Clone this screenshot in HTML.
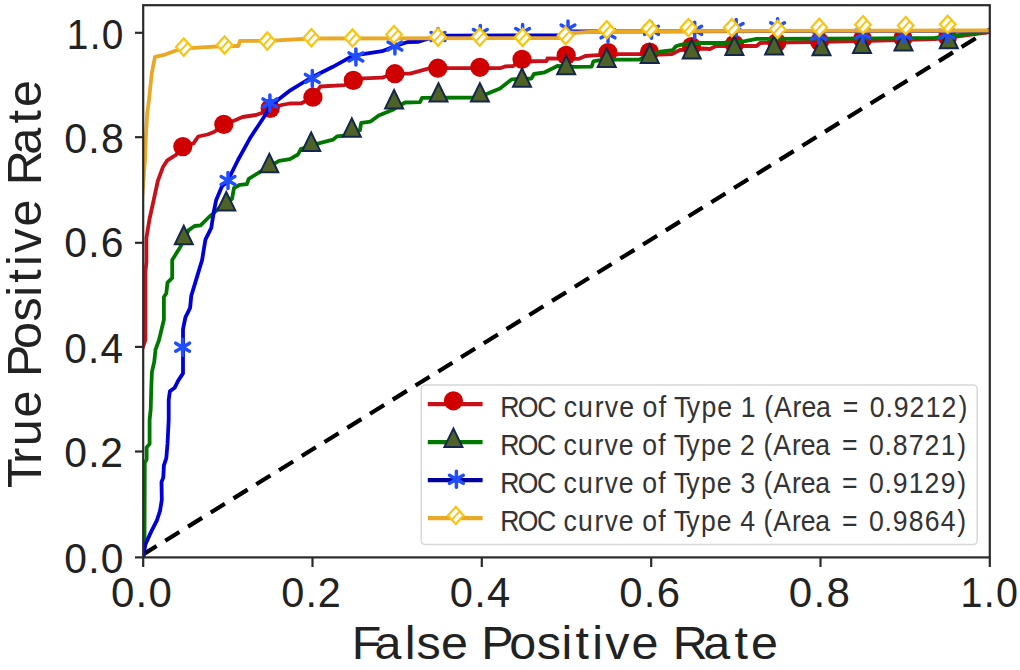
<!DOCTYPE html>
<html><head><meta charset="utf-8"><style>
html,body{margin:0;padding:0;background:#fff;}
svg{display:block;}
text{font-family:"Liberation Sans",sans-serif;}
</style></head><body>
<svg width="1020" height="670" viewBox="0 0 1020 670">
<defs><filter id="bl" x="-0.05" y="-0.05" width="1.1" height="1.1"><feGaussianBlur stdDeviation="0.8"/></filter><clipPath id="ax"><rect x="143.2" y="5.2" width="846.6" height="552.2"/></clipPath></defs>
<g>
<g clip-path="url(#ax)">
<line x1="143.2" y1="554.4" x2="989.8" y2="29.5" stroke="#000" stroke-width="4.2" stroke-dasharray="16.6 10.17" stroke-dashoffset="0.8"/>
<polyline points="142,557.4 142,350 145.4,340 145.4,272 146.4,262 146.4,238 149.5,219 153.7,200 157.8,181 163.1,166.7 167.3,160.4 175.6,155.2 182.8,147.5 193.5,143.3 198.2,136.5 207.6,134.5 214.4,131.8 224,124.5 234.5,120.4 242.6,117 256,115 261.4,113 270.1,109 281.6,105 289.6,103.5 301.5,103.3 312.9,97.2 320.3,86.5 344.5,85.1 353.3,80.4 363.3,78.4 382.2,77.7 387.5,75.7 397,73.7 410,73.6 420,70.9 430,68.2 500,68.2 505,66.5 513.4,66 518,61.5 546.6,61 547.5,58.4 578.9,58.8 585.4,56 597.9,55.1 617.6,54.2 639.1,54.2 660,54.5 672,54 680,50 702,48.5 710,49 716,46 756.7,46 760,43 810,42 880,40.6 935,39 960,36 989.8,32" fill="none" stroke="#c8101a" stroke-width="3.8" stroke-linejoin="round"/>
<circle cx="182.8" cy="146.6" r="9.6" fill="#d00000"/><circle cx="223.8" cy="124.4" r="9.6" fill="#d00000"/><circle cx="270.2" cy="108.4" r="9.6" fill="#d00000"/><circle cx="312.9" cy="97.2" r="9.6" fill="#d00000"/><circle cx="353.3" cy="80.4" r="9.6" fill="#d00000"/><circle cx="394.9" cy="73.7" r="9.6" fill="#d00000"/><circle cx="437.8" cy="68.2" r="9.6" fill="#d00000"/><circle cx="479.9" cy="67.3" r="9.6" fill="#d00000"/><circle cx="522" cy="59.3" r="9.6" fill="#d00000"/><circle cx="566.2" cy="55.4" r="9.6" fill="#d00000"/><circle cx="608" cy="52.6" r="9.6" fill="#d00000"/><circle cx="649.5" cy="52" r="9.6" fill="#d00000"/><circle cx="691.5" cy="46.5" r="9.6" fill="#d00000"/><circle cx="734.4" cy="44.4" r="9.6" fill="#d00000"/><circle cx="776.8" cy="42.6" r="9.6" fill="#d00000"/><circle cx="819.5" cy="41.5" r="9.6" fill="#d00000"/><circle cx="862.5" cy="39" r="9.6" fill="#d00000"/><circle cx="903" cy="38" r="9.6" fill="#d00000"/><circle cx="947.5" cy="37" r="9.6" fill="#d00000"/>
<polyline points="143.2,557.4 144.5,540 144.8,463 146.6,459.4 146.6,447.5 149.6,443.9 149.6,420 150.7,409.3 151.3,387.8 151.9,372.2 154.3,361.5 155.5,349.6 159,340 163.9,319.7 163.9,297 166.3,293.4 167.5,282.7 172.2,277.9 172.2,260 180.3,246.9 188.7,230.1 194.6,226 200.6,225.4 209,217 214,213 224,203 232,199 234,188 240,184.8 246.9,184.2 248.7,178.8 257.6,173.4 266.6,168 279.1,160.9 289.9,159.1 298,154.5 300.8,149.1 319.6,143.1 333,139.7 337,136.4 343.8,135.7 359.9,130.3 361.2,122.9 370.6,121.6 378.7,115.5 393.5,109.5 397.5,106.8 405,102.5 420,102.2 422,97.8 478,97.5 500,88.4 511.6,79.4 531.4,78.5 534,74 544.8,72.3 553.8,67.8 557.3,66 576.2,66.9 591.6,66.7 593.4,61.4 597.9,60.5 617.6,59.6 639.1,59.6 649,55 660.2,51.7 672.7,50.1 675.9,46.2 681.4,44.6 701.8,43 723.7,43 744.9,41.2 756.7,38.8 880,38.4 935,38 960,35 989.8,31.5" fill="none" stroke="#007800" stroke-width="3.8" stroke-linejoin="round"/>
<path d="M183.8 225.8 L174.8 244.2 L192.8 244.2 Z" fill="#4e6127" stroke="#14264a" stroke-width="2" stroke-linejoin="miter"/><path d="M226.3 192 L217.3 210.4 L235.3 210.4 Z" fill="#4e6127" stroke="#14264a" stroke-width="2" stroke-linejoin="miter"/><path d="M269.3 153.9 L260.3 172.3 L278.3 172.3 Z" fill="#4e6127" stroke="#14264a" stroke-width="2" stroke-linejoin="miter"/><path d="M311.2 132.5 L302.2 150.9 L320.2 150.9 Z" fill="#4e6127" stroke="#14264a" stroke-width="2" stroke-linejoin="miter"/><path d="M351.8 118.4 L342.8 136.8 L360.8 136.8 Z" fill="#4e6127" stroke="#14264a" stroke-width="2" stroke-linejoin="miter"/><path d="M394.1 90 L385.1 108.4 L403.1 108.4 Z" fill="#4e6127" stroke="#14264a" stroke-width="2" stroke-linejoin="miter"/><path d="M438.5 83.2 L429.5 101.6 L447.5 101.6 Z" fill="#4e6127" stroke="#14264a" stroke-width="2" stroke-linejoin="miter"/><path d="M479.9 83.2 L470.9 101.6 L488.9 101.6 Z" fill="#4e6127" stroke="#14264a" stroke-width="2" stroke-linejoin="miter"/><path d="M522 68.4 L513 86.8 L531 86.8 Z" fill="#4e6127" stroke="#14264a" stroke-width="2" stroke-linejoin="miter"/><path d="M566.2 55.8 L557.2 74.2 L575.2 74.2 Z" fill="#4e6127" stroke="#14264a" stroke-width="2" stroke-linejoin="miter"/><path d="M606.7 48.5 L597.7 66.9 L615.7 66.9 Z" fill="#4e6127" stroke="#14264a" stroke-width="2" stroke-linejoin="miter"/><path d="M649.7 44.5 L640.7 62.9 L658.7 62.9 Z" fill="#4e6127" stroke="#14264a" stroke-width="2" stroke-linejoin="miter"/><path d="M691.7 40 L682.7 58.4 L700.7 58.4 Z" fill="#4e6127" stroke="#14264a" stroke-width="2" stroke-linejoin="miter"/><path d="M734.4 36.5 L725.4 54.9 L743.4 54.9 Z" fill="#4e6127" stroke="#14264a" stroke-width="2" stroke-linejoin="miter"/><path d="M774.1 36.1 L765.1 54.5 L783.1 54.5 Z" fill="#4e6127" stroke="#14264a" stroke-width="2" stroke-linejoin="miter"/><path d="M821.5 36.8 L812.5 55.2 L830.5 55.2 Z" fill="#4e6127" stroke="#14264a" stroke-width="2" stroke-linejoin="miter"/><path d="M862 34.5 L853 52.9 L871 52.9 Z" fill="#4e6127" stroke="#14264a" stroke-width="2" stroke-linejoin="miter"/><path d="M903.5 32 L894.5 50.4 L912.5 50.4 Z" fill="#4e6127" stroke="#14264a" stroke-width="2" stroke-linejoin="miter"/><path d="M948.8 29.8 L939.8 48.2 L957.8 48.2 Z" fill="#4e6127" stroke="#14264a" stroke-width="2" stroke-linejoin="miter"/>
<polyline points="143.2,557.4 145.4,544.4 150.6,532.9 156.9,520.3 160,510.9 161.8,500 161.5,482.1 163.3,477.3 163.9,465.4 166.3,458.2 167.5,443.9 168.7,420 168.7,399.7 169.9,391.3 174.6,387.8 178.2,380.6 183,373.4 183,347.8 183,329.3 185.4,317.3 190.1,307.8 191.3,295.8 194.9,283.9 198.5,271.9 202.1,260 205.4,239.7 211.3,227.8 213.7,212.2 216.1,200.3 222.1,186 226.9,182.4 238,160 250.6,137.2 264,117 270.1,106 290.3,90.3 310.5,78 332.9,66.8 353,55.7 382.2,51.2 393.3,46.8 407.7,42 418.5,41.8 429,38.5 448,35.6 512.6,35.3 566,35.2 571,31.5 989.8,30.8" fill="none" stroke="#0000d8" stroke-width="3.8" stroke-linejoin="round"/>
<path d="M182.6 339.2L182.6 355.2M175.7 343.2L189.5 351.2M175.7 351.2L189.5 343.2" stroke="#1f4dff" stroke-width="3.5" stroke-linecap="round"/><path d="M228 172.6L228 188.6M221.1 176.6L234.9 184.6M221.1 184.6L234.9 176.6" stroke="#1f4dff" stroke-width="3.5" stroke-linecap="round"/><path d="M269.9 94.9L269.9 110.9M263 98.9L276.8 106.9M263 106.9L276.8 98.9" stroke="#1f4dff" stroke-width="3.5" stroke-linecap="round"/><path d="M312.3 70.4L312.3 86.4M305.4 74.4L319.2 82.4M305.4 82.4L319.2 74.4" stroke="#1f4dff" stroke-width="3.5" stroke-linecap="round"/><path d="M355.9 48.9L355.9 64.9M349 52.9L362.8 60.9M349 60.9L362.8 52.9" stroke="#1f4dff" stroke-width="3.5" stroke-linecap="round"/><path d="M394.9 38.1L394.9 54.1M388 42.1L401.8 50.1M388 50.1L401.8 42.1" stroke="#1f4dff" stroke-width="3.5" stroke-linecap="round"/><path d="M438 28.5L438 44.5M431.1 32.5L444.9 40.5M431.1 40.5L444.9 32.5" stroke="#1f4dff" stroke-width="3.5" stroke-linecap="round"/><path d="M480.3 25.5L480.3 41.5M473.4 29.5L487.2 37.5M473.4 37.5L487.2 29.5" stroke="#1f4dff" stroke-width="3.5" stroke-linecap="round"/><path d="M522.6 24.6L522.6 40.6M515.7 28.6L529.5 36.6M515.7 36.6L529.5 28.6" stroke="#1f4dff" stroke-width="3.5" stroke-linecap="round"/><path d="M568 21.1L568 37.1M561.1 25.1L574.9 33.1M561.1 33.1L574.9 25.1" stroke="#1f4dff" stroke-width="3.5" stroke-linecap="round"/><path d="M608 25.8L608 41.8M601.1 29.8L614.9 37.8M601.1 37.8L614.9 29.8" stroke="#1f4dff" stroke-width="3.5" stroke-linecap="round"/><path d="M651.5 22.3L651.5 38.3M644.6 26.3L658.4 34.3M644.6 34.3L658.4 26.3" stroke="#1f4dff" stroke-width="3.5" stroke-linecap="round"/><path d="M694.7 22.3L694.7 38.3M687.8 26.3L701.6 34.3M687.8 34.3L701.6 26.3" stroke="#1f4dff" stroke-width="3.5" stroke-linecap="round"/><path d="M736.2 19.6L736.2 35.6M729.3 23.6L743.1 31.6M729.3 31.6L743.1 23.6" stroke="#1f4dff" stroke-width="3.5" stroke-linecap="round"/><path d="M777.6 18.8L777.6 34.8M770.7 22.8L784.5 30.8M770.7 30.8L784.5 22.8" stroke="#1f4dff" stroke-width="3.5" stroke-linecap="round"/><path d="M818.8 27.3L818.8 43.3M811.9 31.3L825.7 39.3M811.9 39.3L825.7 31.3" stroke="#1f4dff" stroke-width="3.5" stroke-linecap="round"/><path d="M863 26L863 42M856.1 30L869.9 38M856.1 38L869.9 30" stroke="#1f4dff" stroke-width="3.5" stroke-linecap="round"/><path d="M904 26.5L904 42.5M897.1 30.5L910.9 38.5M897.1 38.5L910.9 30.5" stroke="#1f4dff" stroke-width="3.5" stroke-linecap="round"/><path d="M946.8 26L946.8 42M939.9 30L953.7 38M939.9 38L953.7 30" stroke="#1f4dff" stroke-width="3.5" stroke-linecap="round"/>
<polyline points="142,557.4 142,200 145,160 146,134 147.2,113.9 149.4,96 151.7,73.6 155,56.8 165.1,54.6 174,51.2 183.8,48 190,48.2 225,46 238.4,46 240,40.9 267.6,40.9 311.4,38.5 566,38 571,33 600,31.3 989.8,30.5" fill="none" stroke="#e9a825" stroke-width="3.8" stroke-linejoin="round"/>
<path d="M183.8 38.5 L191.6 47.1 L183.8 55.7 L176 47.1 Z" fill="#fff" stroke="#f9c513" stroke-width="2.3"/><path d="M179.9 51.4 L187.7 42.8" stroke="#f9c513" stroke-width="2"/><path d="M224.6 36.4 L232.4 45 L224.6 53.6 L216.8 45 Z" fill="#fff" stroke="#f9c513" stroke-width="2.3"/><path d="M220.7 49.3 L228.5 40.7" stroke="#f9c513" stroke-width="2"/><path d="M267.3 32.5 L275.1 41.1 L267.3 49.7 L259.5 41.1 Z" fill="#fff" stroke="#f9c513" stroke-width="2.3"/><path d="M263.4 45.4 L271.2 36.8" stroke="#f9c513" stroke-width="2"/><path d="M311.4 29.1 L319.2 37.7 L311.4 46.3 L303.6 37.7 Z" fill="#fff" stroke="#f9c513" stroke-width="2.3"/><path d="M307.5 42 L315.3 33.4" stroke="#f9c513" stroke-width="2"/><path d="M352.5 29.4 L360.3 38 L352.5 46.6 L344.7 38 Z" fill="#fff" stroke="#f9c513" stroke-width="2.3"/><path d="M348.6 42.3 L356.4 33.7" stroke="#f9c513" stroke-width="2"/><path d="M394.1 26 L401.9 34.6 L394.1 43.2 L386.3 34.6 Z" fill="#fff" stroke="#f9c513" stroke-width="2.3"/><path d="M390.2 38.9 L398 30.3" stroke="#f9c513" stroke-width="2"/><path d="M438 28.5 L445.8 37.1 L438 45.7 L430.2 37.1 Z" fill="#fff" stroke="#f9c513" stroke-width="2.3"/><path d="M434.1 41.4 L441.9 32.8" stroke="#f9c513" stroke-width="2"/><path d="M479.7 28.5 L487.5 37.1 L479.7 45.7 L471.9 37.1 Z" fill="#fff" stroke="#f9c513" stroke-width="2.3"/><path d="M475.8 41.4 L483.6 32.8" stroke="#f9c513" stroke-width="2"/><path d="M522.6 28.8 L530.4 37.4 L522.6 46 L514.8 37.4 Z" fill="#fff" stroke="#f9c513" stroke-width="2.3"/><path d="M518.7 41.7 L526.5 33.1" stroke="#f9c513" stroke-width="2"/><path d="M565.6 27 L573.4 35.6 L565.6 44.2 L557.8 35.6 Z" fill="#fff" stroke="#f9c513" stroke-width="2.3"/><path d="M561.7 39.9 L569.5 31.3" stroke="#f9c513" stroke-width="2"/><path d="M606.8 21.1 L614.6 29.7 L606.8 38.3 L599 29.7 Z" fill="#fff" stroke="#f9c513" stroke-width="2.3"/><path d="M602.9 34 L610.7 25.4" stroke="#f9c513" stroke-width="2"/><path d="M649.7 19.9 L657.5 28.5 L649.7 37.1 L641.9 28.5 Z" fill="#fff" stroke="#f9c513" stroke-width="2.3"/><path d="M645.8 32.8 L653.6 24.2" stroke="#f9c513" stroke-width="2"/><path d="M688.5 19 L696.3 27.6 L688.5 36.2 L680.7 27.6 Z" fill="#fff" stroke="#f9c513" stroke-width="2.3"/><path d="M684.6 31.9 L692.4 23.3" stroke="#f9c513" stroke-width="2"/><path d="M731.8 19 L739.6 27.6 L731.8 36.2 L724 27.6 Z" fill="#fff" stroke="#f9c513" stroke-width="2.3"/><path d="M727.9 31.9 L735.7 23.3" stroke="#f9c513" stroke-width="2"/><path d="M777.6 20.8 L785.4 29.4 L777.6 38 L769.8 29.4 Z" fill="#fff" stroke="#f9c513" stroke-width="2.3"/><path d="M773.7 33.7 L781.5 25.1" stroke="#f9c513" stroke-width="2"/><path d="M819.3 18.8 L827.1 27.4 L819.3 36 L811.5 27.4 Z" fill="#fff" stroke="#f9c513" stroke-width="2.3"/><path d="M815.4 31.7 L823.2 23.1" stroke="#f9c513" stroke-width="2"/><path d="M863 16.1 L870.8 24.7 L863 33.3 L855.2 24.7 Z" fill="#fff" stroke="#f9c513" stroke-width="2.3"/><path d="M859.1 29 L866.9 20.4" stroke="#f9c513" stroke-width="2"/><path d="M905.7 17 L913.5 25.6 L905.7 34.2 L897.9 25.6 Z" fill="#fff" stroke="#f9c513" stroke-width="2.3"/><path d="M901.8 29.9 L909.6 21.3" stroke="#f9c513" stroke-width="2"/><path d="M947.7 15.7 L955.5 24.3 L947.7 32.9 L939.9 24.3 Z" fill="#fff" stroke="#f9c513" stroke-width="2.3"/><path d="M943.8 28.6 L951.6 20" stroke="#f9c513" stroke-width="2"/>
</g>
<rect x="143.2" y="5.2" width="846.6" height="552.2" fill="none" stroke="#2a2a2a" stroke-width="2.2"/>
<line x1="135" y1="557.4" x2="143.2" y2="557.4" stroke="#2a2a2a" stroke-width="2.2"/>
<line x1="135" y1="451.5" x2="143.2" y2="451.5" stroke="#2a2a2a" stroke-width="2.2"/>
<line x1="135" y1="346.9" x2="143.2" y2="346.9" stroke="#2a2a2a" stroke-width="2.2"/>
<line x1="135" y1="242.8" x2="143.2" y2="242.8" stroke="#2a2a2a" stroke-width="2.2"/>
<line x1="135" y1="137.2" x2="143.2" y2="137.2" stroke="#2a2a2a" stroke-width="2.2"/>
<line x1="135" y1="32.8" x2="143.2" y2="32.8" stroke="#2a2a2a" stroke-width="2.2"/>
<line x1="143.2" y1="557.4" x2="143.2" y2="567" stroke="#2a2a2a" stroke-width="2.2"/>
<line x1="312.5" y1="557.4" x2="312.5" y2="567" stroke="#2a2a2a" stroke-width="2.2"/>
<line x1="481.8" y1="557.4" x2="481.8" y2="567" stroke="#2a2a2a" stroke-width="2.2"/>
<line x1="651.2" y1="557.4" x2="651.2" y2="567" stroke="#2a2a2a" stroke-width="2.2"/>
<line x1="820.5" y1="557.4" x2="820.5" y2="567" stroke="#2a2a2a" stroke-width="2.2"/>
<line x1="989.8" y1="557.4" x2="989.8" y2="567" stroke="#2a2a2a" stroke-width="2.2"/>
<text transform="scale(0.8953 1)" x="74.68 100.30 113.65" y="48.80" font-size="43.36" font-family="Liberation Sans, sans-serif" fill="#222" >1.0</text>
<text transform="scale(0.9490 1)" x="67.72 93.11 106.46" y="152.90" font-size="43.36" font-family="Liberation Sans, sans-serif" fill="#222" >0.8</text>
<text transform="scale(0.9438 1)" x="68.10 93.49 106.84" y="256.80" font-size="43.36" font-family="Liberation Sans, sans-serif" fill="#222" >0.6</text>
<text transform="scale(0.9344 1)" x="68.81 94.20 107.54" y="363.30" font-size="43.36" font-family="Liberation Sans, sans-serif" fill="#222" >0.4</text>
<text transform="scale(0.9425 1)" x="68.20 93.59 106.40" y="467.50" font-size="43.36" font-family="Liberation Sans, sans-serif" fill="#222" >0.2</text>
<text transform="scale(0.9410 1)" x="68.31 93.71 107.05" y="573.00" font-size="43.36" font-family="Liberation Sans, sans-serif" fill="#222" >0.0</text>
<text transform="scale(0.9697 1)" x="114.40 139.79 153.13" y="606.70" font-size="43.36" font-family="Liberation Sans, sans-serif" fill="#222" >0.0</text>
<text transform="scale(0.9563 1)" x="294.10 319.50 332.31" y="606.70" font-size="43.36" font-family="Liberation Sans, sans-serif" fill="#222" >0.2</text>
<text transform="scale(0.9612 1)" x="467.88 493.28 506.62" y="606.70" font-size="43.36" font-family="Liberation Sans, sans-serif" fill="#222" >0.4</text>
<text transform="scale(0.9657 1)" x="641.21 666.61 679.95" y="606.70" font-size="43.36" font-family="Liberation Sans, sans-serif" fill="#222" >0.6</text>
<text transform="scale(0.9710 1)" x="812.40 837.80 851.14" y="606.70" font-size="43.36" font-family="Liberation Sans, sans-serif" fill="#222" >0.8</text>
<text transform="scale(0.9110 1)" x="1054.26 1079.88 1093.22" y="606.70" font-size="43.36" font-family="Liberation Sans, sans-serif" fill="#222" >1.0</text>
<text transform="scale(1.0341 1)" x="340.24 362.14 391.33 402.78 426.36 453.41 465.37 492.52 519.18 543.05 556.41 572.66 585.35 610.80 637.85 650.52 679.96 710.25 726.19" y="659.50" font-size="46.85" font-family="Liberation Sans, sans-serif" fill="#222" >False Positive Rate</text>
<g transform="translate(40.7 487.4) rotate(-90)"><text transform="scale(1.0219 1)" x="-0.68 23.07 40.23 68.39 95.81 107.94 135.46 162.47 186.67 200.21 216.68 229.54 255.33 282.75 295.60 325.44 356.13 372.30" y="0.00" font-size="47.49" font-family="Liberation Sans, sans-serif" fill="#222" >True Positive Rate</text></g>
<rect x="421.3" y="384.9" width="555.9" height="159.7" rx="4" fill="#fff" fill-opacity="0.8" stroke="#d8d8d8" stroke-width="1.5"/>
<line x1="427.8" y1="404.2" x2="482.6" y2="404.2" stroke="#c8101a" stroke-width="4.2"/>
<circle cx="453.4" cy="400.8" r="9.6" fill="#d00000"/>
<text transform="scale(0.9187 1)" x="544.64 563.71 584.70 605.23 613.56 629.23 647.37 658.16 673.94 690.71 699.41 717.00 725.83 733.72 747.53 763.69 780.70 797.47 806.35 823.62 831.78 842.37 862.76 872.51 888.24 906.07 917.46 937.74 946.76 963.87 972.82 989.97 1007.62 1024.84 1043.24" y="416.70" font-size="29.04" font-family="Liberation Sans, sans-serif" fill="#333" >ROC curve of Type 1 (Area = 0.9212)</text>
<line x1="427.8" y1="442.2" x2="482.6" y2="442.2" stroke="#007800" stroke-width="4.2"/>
<path d="M453.4 428.6 L444.4 447 L462.4 447 Z" fill="#4e6127" stroke="#14264a" stroke-width="2" stroke-linejoin="miter"/>
<text transform="scale(0.9165 1)" x="545.95 565.02 586.01 606.54 614.87 630.54 648.68 659.47 675.25 692.02 700.72 718.31 727.14 735.03 748.84 765.00 782.01 798.78 807.44 824.92 833.09 843.68 864.06 873.82 889.55 907.38 918.77 939.05 948.07 965.18 974.21 991.59 1008.72 1026.36 1044.55" y="454.70" font-size="29.04" font-family="Liberation Sans, sans-serif" fill="#333" >ROC curve of Type 2 (Area = 0.8721)</text>
<line x1="427.8" y1="480.2" x2="482.6" y2="480.2" stroke="#00009a" stroke-width="4.2"/>
<path d="M456.4 471.3L456.4 487.3M449.5 475.3L463.3 483.3M449.5 483.3L463.3 475.3" stroke="#1f4dff" stroke-width="3.5" stroke-linecap="round"/>
<text transform="scale(0.9165 1)" x="545.95 565.02 586.01 606.54 614.87 630.54 648.68 659.47 675.25 692.02 700.72 718.31 727.14 735.03 748.84 765.00 782.01 798.78 807.84 824.92 833.09 843.68 864.06 873.82 889.55 907.38 918.77 939.05 948.07 965.18 974.12 991.49 1008.72 1026.42 1044.55" y="492.70" font-size="29.04" font-family="Liberation Sans, sans-serif" fill="#333" >ROC curve of Type 3 (Area = 0.9129)</text>
<line x1="427.8" y1="518.2" x2="482.6" y2="518.2" stroke="#e9a825" stroke-width="4.2"/>
<path d="M455.8 506.9 L463.6 515.5 L455.8 524.1 L448 515.5 Z" fill="#fff" stroke="#f9c513" stroke-width="2.3"/><path d="M451.9 519.8 L459.7 511.2" stroke="#f9c513" stroke-width="2"/>
<text transform="scale(0.9165 1)" x="545.95 565.02 586.01 606.54 614.87 630.54 648.68 659.47 675.25 692.02 700.72 718.31 727.14 735.03 748.84 765.00 782.01 798.78 807.80 824.92 833.09 843.68 864.06 873.82 889.55 907.38 918.77 939.05 948.07 965.18 974.12 991.64 1009.08 1026.51 1044.55" y="530.70" font-size="29.04" font-family="Liberation Sans, sans-serif" fill="#333" >ROC curve of Type 4 (Area = 0.9864)</text>
</g></svg>
</body></html>
